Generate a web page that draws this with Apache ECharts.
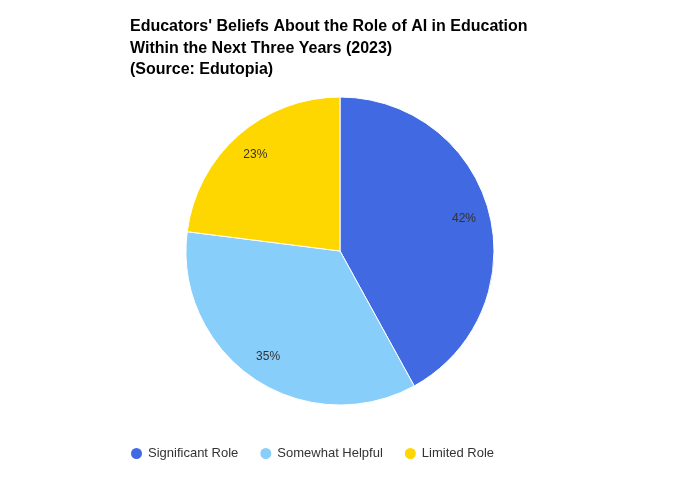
<!DOCTYPE html>
<html><head><meta charset="utf-8">
<script src="https://cdn.jsdelivr.net/npm/echarts@6/dist/echarts.min.js"></script>
<style>html,body{margin:0;padding:0;background:#fff}#c{width:680px;height:500px}</style>
</head><body><div id="c"></div>
<script>
const categories = ['Significant Role', 'Somewhat Helpful', 'Limited Role'];
const values = [42, 35, 23];
const colors = ['#4169E1', '#87CEFA', '#FFD700'];
const titleText = "Educators' Beliefs About the Role of AI in Education\nWithin the Next Three Years (2023)\n(Source: Edutopia)";

const data = categories.map((n, i) => ({ name: n, value: values[i], itemStyle: { color: colors[i] } }));
const chart = echarts.init(document.getElementById('c'), null, { renderer: 'canvas' });
chart.setOption({
  animation: false,
  title: {
    text: titleText, left: 125, top: 11,
    textStyle: { fontFamily: 'Liberation Sans, Arial', fontSize: 16, fontWeight: 'bold', color: '#000', lineHeight: 21.5 }
  },
  legend: {
    data: categories, left: 129, top: 446, padding: 0, icon: 'circle', itemWidth: 13, itemHeight: 13, itemGap: 20,
    textStyle: { fontFamily: 'Liberation Sans, Arial', fontSize: 13, color: '#333' }
  },
  series: [
    {
      type: 'pie', center: [340, 251], radius: [0, 154], startAngle: 90, clockwise: true,
      data: data, label: { show: false }, labelLine: { show: false },
      itemStyle: { borderColor: '#fff', borderWidth: 1 }, silent: true
    },
    {
      type: 'pie', center: [340, 251], radius: [96, 154], startAngle: 90, clockwise: true,
      data: categories.map((n, i) => ({ name: n, value: values[i], itemStyle: { color: 'rgba(0,0,0,0)' } })),
      label: { show: true, position: 'inside', formatter: p => p.value + '%', fontFamily: 'Liberation Sans, Arial', fontSize: 12, color: '#333' },
      labelLine: { show: false }, silent: true, itemStyle: { borderWidth: 0 }
    }
  ]
});
</script></body></html>
